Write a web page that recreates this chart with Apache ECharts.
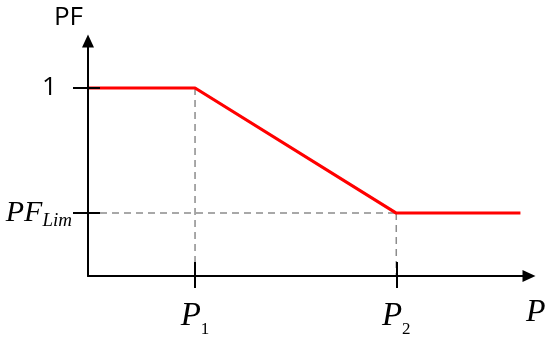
<!DOCTYPE html>
<html>
<head>
<meta charset="utf-8">
<script src="https://cdn.jsdelivr.net/npm/echarts@6/dist/echarts.min.js"></script>
<style>html,body{margin:0;padding:0;background:#fff}#c{width:550px;height:339px}</style>
</head>
<body>
<div id="c"></div>
<script>
// ---- data ----
var xTickValues = [1, 2.88];          // P1, P2
var xTickNames = ['P1', 'P2'];
var yTickValues = [0.335, 1];         // PF_Lim, 1
var yTickNames = ['PFLim', '1'];
var curveX = [0, 1, 2.88, 4.04];
var curveY = [1, 1, 0.335, 0.335];
var xMax = 4.12;
var yMax = 1.25;

var pts = curveX.map(function (x, i) { return [x, curveY[i]]; });
var P1 = xTickValues[0], P2 = xTickValues[1], PFL = yTickValues[0], PF1 = yTickValues[1];

var serif = '"Liberation Serif", "Times New Roman", serif';
var sans = '"Open Sans", "Liberation Sans", Arial, sans-serif';

var chart = echarts.init(document.getElementById('c'));
var dash = { color: '#8c8c8c', width: 1.5, type: [7, 5] };
function guide(data) {
  return { type: 'line', data: data, symbol: 'none', lineStyle: dash, z: 2, silent: true, clip: false, animation: false };
}
chart.setOption({
  animation: false,
  grid: { left: 88, right: 21, top: 41, bottom: 63 },
  xAxis: [{
    type: 'value', min: 0, max: xMax, position: 'bottom', z: 10,
    splitLine: { show: false },
    axisLine: { show: true, lineStyle: { color: '#000', width: 2 }, symbol: ['none', 'triangle'], symbolSize: [12, 13] },
    axisTick: { show: true, customValues: xTickValues, length: 12, inside: false, lineStyle: { color: '#000', width: 2 } },
    axisLabel: {
      show: true, customValues: xTickValues, margin: 18,
      formatter: function (v) {
        var i = xTickValues.indexOf(v);
        var n = xTickNames[i];
        return '{m|' + n.charAt(0) + '}{s|' + n.slice(1) + '}';
      },
      rich: {
        m: { fontFamily: serif, fontStyle: 'italic', fontSize: 33, lineHeight: 44, color: '#000' },
        s: { fontFamily: serif, fontSize: 17, lineHeight: 16, verticalAlign: 'bottom', color: '#000' }
      }
    },
    name: 'P', nameLocation: 'end', nameGap: -3,
    nameTextStyle: { fontFamily: serif, fontStyle: 'italic', fontSize: 32, color: '#000', verticalAlign: 'top', align: 'left', padding: [21, 0, 0, 0] }
  }, {
    type: 'value', min: 0, max: xMax, position: 'bottom', z: 10,
    splitLine: { show: false }, axisLine: { show: false }, axisLabel: { show: false },
    axisTick: { show: true, customValues: xTickValues, length: 14, inside: true, lineStyle: { color: '#000', width: 2 } }
  }],
  yAxis: [{
    type: 'value', min: 0, max: yMax, position: 'left', z: 10,
    splitLine: { show: false },
    axisLine: { show: true, lineStyle: { color: '#000', width: 2 }, symbol: ['none', 'triangle'], symbolSize: [12, 13] },
    axisTick: { show: true, customValues: yTickValues, length: 15, inside: false, lineStyle: { color: '#000', width: 2 } },
    axisLabel: {
      show: true, customValues: yTickValues, margin: 16,
      formatter: function (v) {
        var i = yTickValues.indexOf(v);
        var n = yTickNames[i];
        if (n === '1') return '{one|1}';
        return '{m|PF}{s|Lim}';
      },
      rich: {
        one: { fontFamily: sans, fontSize: 26, color: '#000', width: 30, align: 'left' },
        m: { fontFamily: serif, fontStyle: 'italic', fontSize: 30, lineHeight: 34, color: '#000' },
        s: { fontFamily: serif, fontStyle: 'italic', fontSize: 19, lineHeight: 14, verticalAlign: 'bottom', color: '#000' }
      }
    },
    name: 'PF', nameLocation: 'end', nameGap: 10,
    nameTextStyle: { fontFamily: sans, fontSize: 26, color: '#000', align: 'right', padding: [0, 5, 0, 0] }
  }, {
    type: 'value', min: 0, max: yMax, position: 'left', z: 10,
    splitLine: { show: false }, axisLine: { show: false }, axisLabel: { show: false },
    axisTick: { show: true, customValues: yTickValues, length: 12, inside: true, lineStyle: { color: '#000', width: 2 } }
  }],
  series: [
    guide([[P1, PF1], [P1, 0]]),
    guide([[0, PFL], [P2, PFL]]),
    guide([[P2, PFL], [P2, 0]]),
    { type: 'line', data: pts, symbol: 'none', z: 5, clip: false, lineStyle: { color: '#ff0000', width: 3.2 } }
  ]
});
</script>
</body>
</html>
